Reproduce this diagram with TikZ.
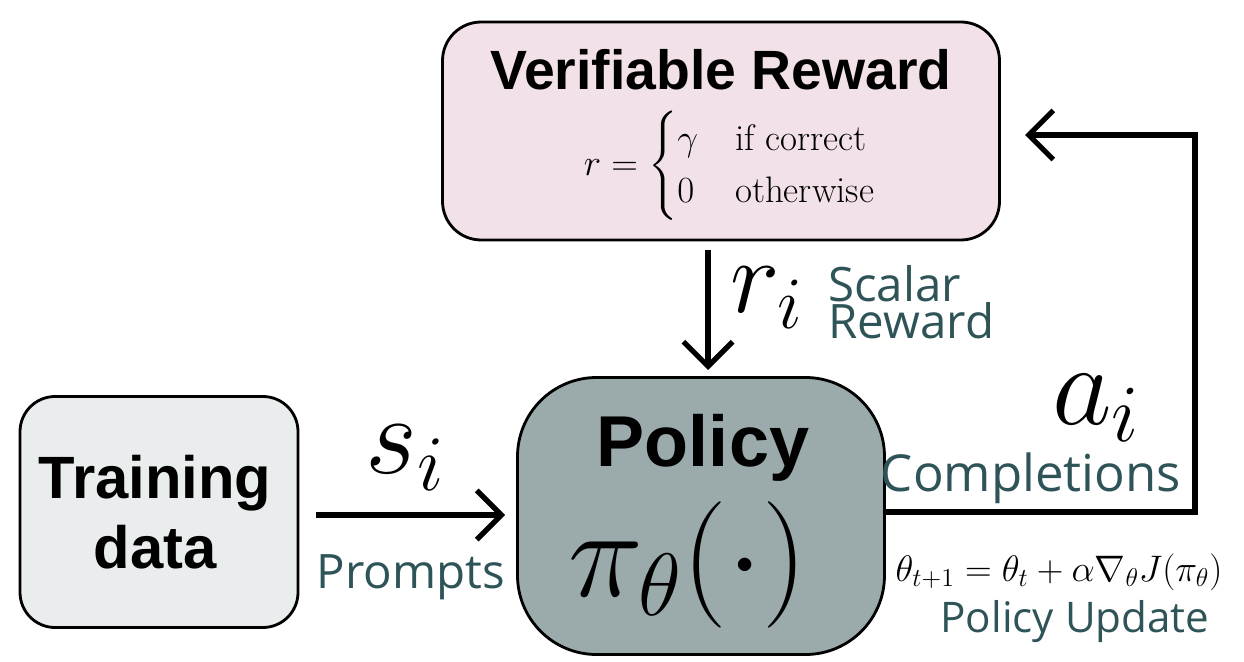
\RequirePackage{fix-cm}
\documentclass[tikz,border=0pt]{standalone}
\usepackage{amsmath}
\usepackage{fontspec}
\setsansfont{Open Sans}
\newfontfamily\titlefont{Liberation Sans}
\usetikzlibrary{arrows.meta}
\definecolor{pinkf}{HTML}{F2E1E8}
\definecolor{grayf}{HTML}{E9EDED}
\definecolor{polf}{HTML}{9BAAAB}
\definecolor{teal}{HTML}{2F5457}
\begin{document}
\begin{tikzpicture}[x=0.02cm,y=-0.02cm,
  box/.style={draw=black,line width=1.6pt},
  arr/.style={line width=3pt,-{Straight Barb[length=14pt,width=28pt,line width=3pt]}},
  lbl/.style={text=teal,font=\sffamily\fontsize{27}{27}\selectfont,align=left,inner sep=0pt}]
\useasboundingbox (0,0) rectangle (1244,662);
\node[box,fill=pinkf,rounded corners=22pt,minimum width=557*0.02cm,minimum height=218*0.02cm] (rew) at (721,131) {};
\node[font=\titlefont\bfseries\fontsize{31.5}{31.5}\selectfont] (rt) at (721,70) {Verifiable Reward};
\node[font=\fontsize{21}{25}\selectfont] (rf) at (730,166) {$r=\begin{cases}\gamma & \text{if correct}\\ 0 & \text{otherwise}\end{cases}$};
\node[box,fill=grayf,rounded corners=20pt,minimum width=278*0.02cm,minimum height=231*0.02cm] (td) at (159,512) {};
\node[font=\titlefont\bfseries\fontsize{34}{40}\selectfont,align=center] (tdt) at (155,512) {Training\\data};
\node[box,fill=polf,rounded corners=45pt,minimum width=367*0.02cm,minimum height=277*0.02cm] (pol) at (701,516) {};
\node[font=\titlefont\bfseries\fontsize{41}{41}\selectfont] (pt) at (703,448) {Policy};
\node[font=\fontsize{72}{72}\selectfont] (pm) at (688,565) {$\pi_\theta(\cdot)$};
\coordinate (d1) at (708,250); \coordinate (d2) at (708,370);
\draw[arr] (d1) -- (d2);
\node[font=\fontsize{60}{60}\selectfont] (ri) at (767,298) {$r_i$};
\node[lbl] (sr) at (828,302) [anchor=west] {Scalar\\[-6pt]Reward};
\coordinate (s1) at (316,515); \coordinate (s2) at (505,515);
\draw[arr] (s1) -- (s2);
\node[font=\fontsize{64}{64}\selectfont] (si) at (405,458) {$s_i$};
\node[lbl] (pr) at (411,577) {Prompts};
\coordinate (f1) at (885,512); \coordinate (f2) at (1195,512); \coordinate (f3) at (1195,135); \coordinate (f4) at (1025,135);
\draw[arr] (f1) -- (f2) -- (f3) -- (f4);
\node[font=\fontsize{66}{66}\selectfont] (ai) at (1096,408) {$a_i$};
\node[lbl,font=\sffamily\fontsize{29}{29}\selectfont] (cp) at (1031,478) {Completions};
\node[font=\fontsize{21}{21}\selectfont] (up) at (1059,572) {$\theta_{t+1}=\theta_t+\alpha\nabla_\theta J(\pi_\theta)$};
\node[lbl,font=\sffamily\fontsize{24}{24}\selectfont] (pu) at (1075,622) {Policy Update};
\end{tikzpicture}
\end{document}
